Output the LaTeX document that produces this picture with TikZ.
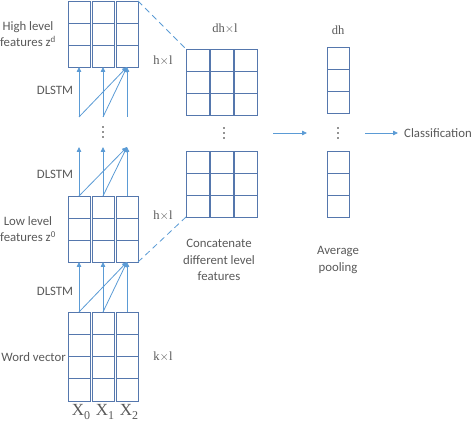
\documentclass[tikz,border=0pt]{standalone}
\usepackage{fontspec}
\setmainfont{Carlito}
\newfontfamily\serf{Liberation Serif}
\usetikzlibrary{arrows.meta}
\definecolor{boxc}{HTML}{5577AD}
\definecolor{arrc}{HTML}{5B9BD5}
\definecolor{txtc}{HTML}{595959}
\tikzset{
  col/.style={draw=boxc, line width=0.9pt, minimum width=22pt, inner sep=0pt, outer sep=0pt},
  col3/.style={col, minimum height=66pt},
  col4/.style={col, minimum height=89pt},
  arr/.style={draw=arrc, line width=0.8pt, -{Triangle[length=5pt,width=4.5pt]}},
  dsh/.style={draw=arrc, line width=0.8pt, dash pattern=on 6pt off 4pt},
  lbl/.style={text=txtc, font=\fontsize{12.8}{16.5}\selectfont, align=center, inner sep=1pt},
  slbl/.style={text=txtc, font=\serf\fontsize{12.5}{14}\selectfont, inner sep=1pt},
}
\newcommand{\rowsthree}[1]{%
  \draw[boxc, line width=0.9pt] ([yshift=-22pt]#1.north west) -- ([yshift=-22pt]#1.north east);
  \draw[boxc, line width=0.9pt] ([yshift=22pt]#1.south west) -- ([yshift=22pt]#1.south east);}
\newcommand{\rowsfour}[1]{%
  \draw[boxc, line width=0.9pt] ([yshift=-22.25pt]#1.north west) -- ([yshift=-22.25pt]#1.north east);
  \draw[boxc, line width=0.9pt] (#1.west) -- (#1.east);
  \draw[boxc, line width=0.9pt] ([yshift=22.25pt]#1.south west) -- ([yshift=22.25pt]#1.south east);}
\newcommand{\vdotsat}[1]{%
  \fill[black!85] ([yshift=5pt]#1) circle (0.9pt) (#1) circle (0.9pt) ([yshift=-5pt]#1) circle (0.9pt);}
\newcommand{\xlab}[1]{{\fontsize{17}{17}\selectfont X}\raisebox{-3.5pt}{\fontsize{12}{12}\selectfont #1}}
\begin{document}
\begin{tikzpicture}[x=1pt,y=-1pt]
\useasboundingbox (0,0) rectangle (474,422);
% high level block
\node[col3] (h1) at (79,34) {};
\node[col3] (h2) at (103,34) {};
\node[col3] (h3) at (127,34) {};
% low level block
\node[col3] (l1) at (79,229) {};
\node[col3] (l2) at (103,229) {};
\node[col3] (l3) at (127,229) {};
% word vector block
\node[col4] (w1) at (79,356.5) {};
\node[col4] (w2) at (103,356.5) {};
\node[col4] (w3) at (127,356.5) {};
\foreach \n in {h1,h2,h3,l1,l2,l3} {\rowsthree{\n}}
\foreach \n in {w1,w2,w3} {\rowsfour{\n}}
% concatenated blocks
\node[col3, minimum width=23pt] (cu1) at (197.5,82) {};
\node[col3, minimum width=23pt] (cu2) at (221.5,82) {};
\node[col3, minimum width=23pt] (cu3) at (245.5,82) {};
\node[col3, minimum width=23pt] (cl1) at (197.5,184) {};
\node[col3, minimum width=23pt] (cl2) at (221.5,184) {};
\node[col3, minimum width=23pt] (cl3) at (245.5,184) {};
\foreach \n in {cu1,cu2,cu3,cl1,cl2,cl3} {\rowsthree{\n}}
% average pooling
\node[col3] (au) at (338,80) {};
\node[col3] (al) at (338,184) {};
\foreach \n in {au,al} {\rowsthree{\n}}
% free ends of DLSTM arrows
\coordinate (t1) at (79,117); \coordinate (t2) at (103,117); \coordinate (t3) at (127,117);
\coordinate (u1) at (79,147); \coordinate (u2) at (103,147); \coordinate (u3) at (127,147);
% word -> low
\draw[arr] (w1.north) -- (l1.south);
\draw[arr] (w2.north) -- (l2.south);
\draw[arr] (w3.north) -- (l3.south);
\draw[arr] (w1.north) -- (l3.south);
\draw[arr] (w2.north) -- (l3.south);
% low -> up
\draw[arr] (l1.north) -- (u1);
\draw[arr] (l2.north) -- (u2);
\draw[arr] (l3.north) -- (u3);
\draw[arr] (l1.north) -- (u3);
\draw[arr] (l2.north) -- (u3);
% -> high
\draw[arr] (t1) -- (h1.south);
\draw[arr] (t2) -- (h2.south);
\draw[arr] (t3) -- (h3.south);
\draw[arr] (t1) -- (h3.south);
\draw[arr] (t2) -- (h3.south);
% dashed links
\draw[dsh] (h3.north east) -- (cu1.north west);
\draw[dsh] (l3.south east) -- (cl1.south west);
% dots
\coordinate (d1) at (103,132);
\coordinate (d2) at (224,133);
\coordinate (d3) at (338,133);
\vdotsat{d1}\vdotsat{d2}\vdotsat{d3}
% horizontal arrows
\coordinate (a1s) at (273,133); \coordinate (a1e) at (307,133);
\coordinate (a2s) at (365,133); \coordinate (a2e) at (398,133);
\draw[arr] (a1s) -- (a1e);
\draw[arr] (a2s) -- (a2e);
% labels
\node[lbl] (hl) at (28,34) {High level\\features z\textsuperscript{d}};
\node[lbl] (ll) at (28,229) {Low level\\features z\textsuperscript{0}};
\node[lbl] (ds1) at (55,90) {DLSTM};
\node[lbl] (ds2) at (55,174) {DLSTM};
\node[lbl] (ds3) at (55,291) {DLSTM};
\node[lbl, anchor=east] (wv) at (67,357) {Word vector};
\node[slbl] (hx1) at (163,61) {h$\times$l};
\node[slbl] (hx2) at (163,216) {h$\times$l};
\node[slbl] (kx) at (163,357) {k$\times$l};
\node[slbl] (dhl) at (225,29) {dh$\times$l};
\node[slbl] (dh) at (338,30) {dh};
\node[lbl] (cc) at (219,260) {Concatenate\\different level\\features};
\node[lbl] (ap) at (338,260) {Average\\pooling};
\node[lbl, anchor=west] (cl) at (403,133) {Classification};
\node[text=txtc, font=\serf, inner sep=0pt] (x0) at (81,412) {\xlab{0}};
\node[text=txtc, font=\serf, inner sep=0pt] (x1) at (105,412) {\xlab{1}};
\node[text=txtc, font=\serf, inner sep=0pt] (x2) at (129,412) {\xlab{2}};
\end{tikzpicture}
\end{document}
